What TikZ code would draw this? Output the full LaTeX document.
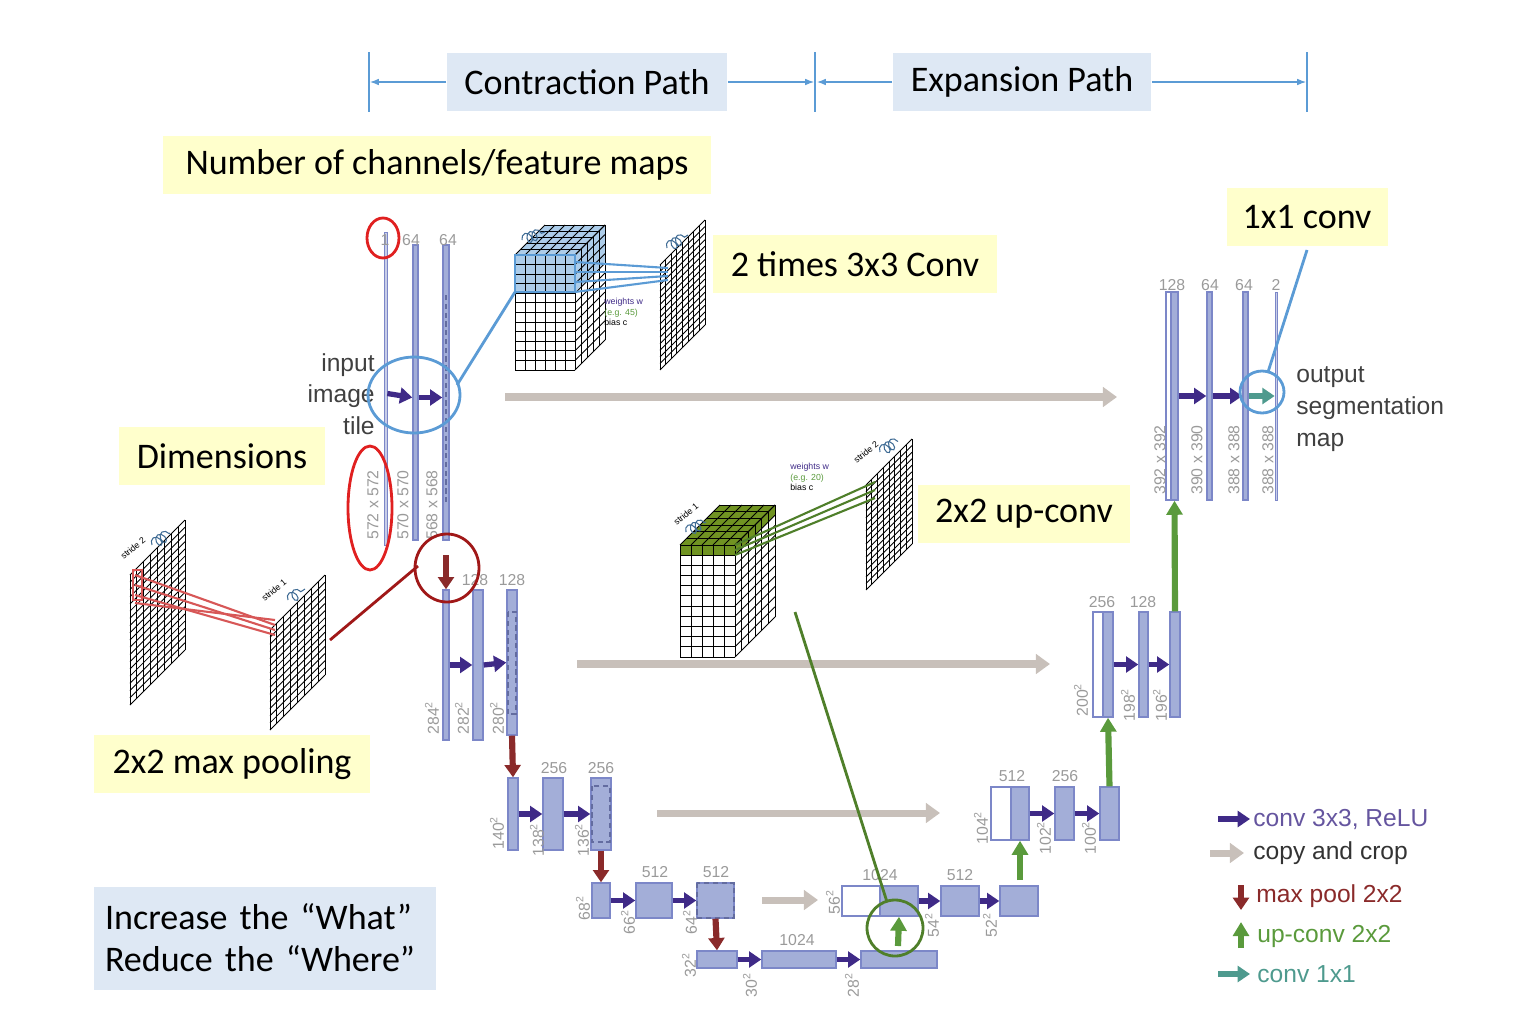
\documentclass[tikz,border=0pt]{standalone}
\usepackage{fontspec}
\setmainfont{Carlito}
\newfontfamily\netfont{Liberation Sans}
\usetikzlibrary{arrows.meta,fit,decorations.pathmorphing}

\definecolor{fmapfill}{HTML}{A3AED8}
\definecolor{fmapdraw}{HTML}{7C87C8}
\definecolor{convcol}{HTML}{3F2A87}
\definecolor{poolcol}{HTML}{8A2A2A}
\definecolor{upcol}{HTML}{5A9A3C}
\definecolor{copycol}{HTML}{C8C0BA}
\definecolor{tealcol}{HTML}{4E9A8E}
\definecolor{yelbox}{HTML}{FFFFCC}
\definecolor{blubox}{HTML}{DEE8F4}
\definecolor{linkblue}{HTML}{5B9BD5}
\definecolor{ringred}{HTML}{E02020}
\definecolor{ringdark}{HTML}{A01818}
\definecolor{linkgreen}{HTML}{4F7F2A}
\definecolor{numgray}{HTML}{9A9A9A}

\tikzset{
  fbox/.style={draw=fmapdraw, fill=fmapfill, line width=0.8pt, inner sep=0pt},
  wbox/.style={draw=fmapdraw, fill=white, line width=0.8pt, inner sep=0pt},
  conv/.style={convcol, line width=3pt, -{Triangle[length=7pt,width=9pt]}},
  one/.style={tealcol, line width=3pt, -{Triangle[length=7pt,width=9pt]}},
  copy/.style={copycol, line width=4pt, -{Triangle[length=8pt,width=11pt]}},
  pool/.style={poolcol, line width=3.5pt, -{Triangle[length=7pt,width=9pt]}},
  up/.style={upcol, line width=3.5pt, -{Triangle[length=8pt,width=9pt]}},
  num/.style={font=\netfont\fontsize{9}{10}\selectfont, text=numgray, inner sep=0pt},
  dim/.style={num, rotate=90},
  ybox/.style={fill=yelbox, inner sep=0pt, font=\fontsize{20.5}{24}\selectfont},
  bbox/.style={fill=blubox, inner sep=0pt, font=\fontsize{20.5}{24}\selectfont},
  path/.style={linkblue, line width=0.6pt, -{Latex[length=5pt]}},
  ring/.style={line width=1.6pt},
  legend/.style={font=\netfont\fontsize{14}{16}\selectfont, anchor=west, inner sep=0pt},
  side/.style={font=\netfont\fontsize{14}{16}\selectfont, text=black!75, inner sep=0pt},
  tiny/.style={font=\netfont\fontsize{5}{6}\selectfont, inner sep=0pt},
  grd/.style={black, line width=0.5pt},
  spring/.style={decorate, decoration={coil, aspect=0.7, segment length=3pt, amplitude=3pt}, linkblue!70!black, line width=0.6pt}
}
% feature map bar from (x1,y1) to (x2,y2)
\newcommand{\fbar}[6][fbox]{\node[#1, fit={(#3,#4) (#5,#6)}] (#2) {};}
% front grid: top-left x,y, width, height, cols, rows
\newcommand{\frontgrid}[6]{%
  \foreach \i in {0,...,#5} \draw[grd] ({#1+\i*#3/#5},#2) -- ++(0,#4);
  \foreach \j in {0,...,#6} \draw[grd] (#1,{#2+\j*#4/#6}) -- ++(#3,0);}
% skewed grid: bottom-front x,y, depth dx,dy, height, depth steps, rows
\newcommand{\skewgrid}[7]{%
  \foreach \i in {0,...,#6} \draw[grd] ({#1+\i*#3/#6},{#2+\i*#4/#6}) -- ++(0,-#5);
  \foreach \j in {0,...,#7} \draw[grd] (#1,{#2-\j*#5/#7}) -- ++(#3,#4);}

\begin{document}
\begin{tikzpicture}[x=0.02cm, y=-0.02cm]
\useasboundingbox (0,0) rectangle (1530,1014);

%------------------ HEADER ------------------%
\foreach \x in {369,815,1307} \draw[linkblue, line width=0.6pt] (\x,52) -- (\x,112);
\node[bbox, minimum width=5.62cm, minimum height=1.16cm] (contr) at (587,82) {Contraction Path};
\node[bbox, minimum width=5.18cm, minimum height=1.16cm] (expan) at (1022,82) {Expansion Path};
\coordinate (h1) at (370,82); \coordinate (h2) at (814,82);
\coordinate (h3) at (817,82); \coordinate (h4) at (1306,82);
\draw[path] (contr.west) -- (h1);
\draw[path] (contr.east) -- (h2);
\draw[path] (expan.west) -- (h3);
\draw[path] (expan.east) -- (h4);

%------------------ LABEL BOXES ------------------%
\node[ybox, minimum width=10.96cm, minimum height=1.16cm] (nch) at (437,165) {Number of channels/feature maps};
\node[ybox, minimum width=5.7cm, minimum height=1.16cm] (twoconv) at (855,264) {2 times 3x3 Conv};
\node[ybox, minimum width=3.22cm, minimum height=1.16cm] (oneconv) at (1307,217) {1x1 conv};
\node[ybox, minimum width=4.12cm, minimum height=1.16cm] (dims) at (222,456) {Dimensions};
\node[ybox, minimum width=4.24cm, minimum height=1.16cm] (upconv) at (1024,514) {2x2 up-conv};
\node[ybox, minimum width=5.52cm, minimum height=1.16cm] (maxpool) at (232,764) {2x2 max pooling};
\node[bbox, minimum width=6.86cm, minimum height=2.06cm, align=left, text width=6.4cm] (what) at (265,938)
  {Increase the “What”\\[0pt]Reduce the “Where”};

%------------------ LEVEL 1 ------------------%
\fbar[fbox,line width=0.4pt,fill=fmapfill!60]{c11}{384}{232}{387}{545}
\fbar{c12}{413}{245}{418}{540}
\fbar{c13}{443}{245}{449}{540}
\draw[fmapdraw!80!black, densely dashed, line width=0.8pt] (446,295) -- (446,505);
\node[num] (n11) at (385,240) {1};
\node[num] (n12) at (411,240) {64};
\node[num] (n13) at (448,240) {64};
\node[dim] (d11) at (373,505) {572 x 572};
\node[dim] (d12) at (403,505) {570 x 570};
\node[dim] (d13) at (432,505) {568 x 568};
\draw[conv] ([yshift=-0.1cm]c11.east) -- ([yshift=-0.1cm]c12.west);
\draw[conv] ([yshift=-0.1cm]c12.east) -- ([yshift=-0.1cm]c13.west);
\node[side, align=right, anchor=east] (inp) at (375,394)
  {input\\[2pt]image\\[2pt]tile};

%------------------ LEVEL 2 ------------------%
\fbar{c21}{443}{590}{449}{740}
\fbar{c22}{473}{590}{483}{740}
\fbar{c23}{507}{590}{517}{735}
\draw[fmapdraw!80!black, densely dashed, line width=0.8pt] (508,612) rectangle (516,714);
\node[num] (n22) at (475,580) {128};
\node[num] (n23) at (512,580) {128};
\node[dim] (d21) at (432,718) {284\textsuperscript{2}};
\node[dim] (d22) at (462,718) {282\textsuperscript{2}};
\node[dim] (d23) at (497,718) {280\textsuperscript{2}};
\draw[conv] (c21.east) -- (c22.west);
\draw[conv] (c22.east) -- (c23.west);

%------------------ LEVEL 3 ------------------%
\fbar{c31}{508}{778}{518}{850}
\fbar{c32}{543}{778}{563}{850}
\fbar{c33}{591}{778}{611}{850}
\draw[fmapdraw!80!black, densely dashed, line width=0.8pt] (592,786) rectangle (610,842);
\node[num] (n32) at (554,768) {256};
\node[num] (n33) at (601,768) {256};
\node[dim] (d31) at (497,833) {140\textsuperscript{2}};
\node[dim] (d32) at (537,840) {138\textsuperscript{2}};
\node[dim] (d33) at (582,840) {136\textsuperscript{2}};
\draw[conv] (c31.east) -- (c32.west);
\draw[conv] (c32.east) -- (c33.west);

%------------------ LEVEL 4 ------------------%
\fbar{c41}{592}{883}{610}{918}
\fbar{c42}{636}{883}{672}{918}
\fbar{c43}{697}{883}{734}{918}
\draw[fmapdraw!80!black, densely dashed, line width=0.8pt] (697,883) rectangle (734,918);
\node[num] (n42) at (655,872) {512};
\node[num] (n43) at (716,872) {512};
\node[dim] (d41) at (583,908) {68\textsuperscript{2}};
\node[dim] (d42) at (628,922) {66\textsuperscript{2}};
\node[dim] (d43) at (690,922) {64\textsuperscript{2}};
\draw[conv] (c41.east) -- (c42.west);
\draw[conv] (c42.east) -- (c43.west);

%------------------ LEVEL 5 ------------------%
\fbar{c51}{697}{951}{737}{968}
\fbar{c52}{762}{951}{836}{968}
\fbar{c53}{861}{951}{937}{968}
\node[num] (n52) at (797,940) {1024};
\node[dim] (d51) at (689,965) {32\textsuperscript{2}};
\node[dim] (d52) at (750,985) {30\textsuperscript{2}};
\node[dim] (d53) at (852,985) {28\textsuperscript{2}};
\draw[conv] (c51.east) -- (c52.west);
\draw[conv] (c52.east) -- (c53.west);

%------------------ EXPANSION LEVEL 4 ------------------%
\fbar[wbox]{e41w}{842}{886}{880}{916}
\fbar{e41}{880}{886}{918}{916}
\fbar{e42}{941}{886}{979}{916}
\fbar{e43}{1000}{886}{1038}{916}
\node[num] (m41) at (880,875) {1024};
\node[num] (m42) at (960,875) {512};
\node[dim] (f41) at (833,902) {56\textsuperscript{2}};
\node[dim] (f42) at (932,925) {54\textsuperscript{2}};
\node[dim] (f43) at (990,925) {52\textsuperscript{2}};
\draw[conv] (e41.east) -- (e42.west);
\draw[conv] (e42.east) -- (e43.west);

%------------------ EXPANSION LEVEL 3 ------------------%
\fbar[wbox]{e31w}{991}{787}{1011}{840}
\fbar{e31}{1011}{787}{1029}{840}
\fbar{e32}{1055}{787}{1074}{840}
\fbar{e33}{1100}{787}{1119}{840}
\node[num] (m31) at (1012,776) {512};
\node[num] (m32) at (1065,776) {256};
\node[dim] (f31) at (981,828) {104\textsuperscript{2}};
\node[dim] (f32) at (1044,838) {102\textsuperscript{2}};
\node[dim] (f33) at (1089,838) {100\textsuperscript{2}};
\draw[conv] (e31.east) -- (e32.west);
\draw[conv] (e32.east) -- (e33.west);

%------------------ EXPANSION LEVEL 2 ------------------%
\fbar[wbox]{e21w}{1093}{612}{1103}{717}
\fbar{e21}{1103}{612}{1113}{717}
\fbar{e22}{1139}{612}{1148}{717}
\fbar{e23}{1170}{612}{1180}{717}
\node[num] (m21) at (1102,602) {256};
\node[num] (m22) at (1143,602) {128};
\node[dim] (f21) at (1081,700) {200\textsuperscript{2}};
\node[dim] (f22) at (1128,705) {198\textsuperscript{2}};
\node[dim] (f23) at (1160,705) {196\textsuperscript{2}};
\draw[conv] (e21.east) -- (e22.west);
\draw[conv] (e22.east) -- (e23.west);

%------------------ EXPANSION LEVEL 1 ------------------%
\fbar[wbox]{e11w}{1166}{292}{1171}{500}
\fbar{e11}{1171}{292}{1178}{500}
\fbar{e12}{1207}{292}{1212}{500}
\fbar{e13}{1243}{292}{1248}{500}
\fbar[fbox,line width=0.4pt,fill=fmapfill!60]{e14}{1275}{292}{1277}{500}
\node[num] (m11) at (1172,285) {128};
\node[num] (m12) at (1210,285) {64};
\node[num] (m13) at (1244,285) {64};
\node[num] (m14) at (1276,285) {2};
\node[dim] (f11) at (1160,460) {392 x 392};
\node[dim] (f12) at (1197,460) {390 x 390};
\node[dim] (f13) at (1234,460) {388 x 388};
\node[dim] (f14) at (1268,460) {388 x 388};
\draw[conv] (e11.east) -- (e12.west);
\draw[conv] (e12.east) -- (e13.west);
\draw[one] (e13.east) -- (e14.west);
\node[side, align=left, anchor=west] (outp) at (1296,409)
  {output\\[2pt]segmentation\\[2pt]map};

%------------------ POOL / UP ------------------%
\draw[pool] (446,555) -- (c21.north);
\draw[pool] (c23.south) -- (c31.north);
\draw[pool] (c33.south) -- (c41.north);
\draw[pool] (c43.south) -- (c51.north);
\draw[up] (898,946) -- (e41.south);
\draw[up] (1020,880) -- (e31.south);
\draw[up] (e33.north) -- (e21.south);
\draw[up] (e23.north) -- (e11.south);

%------------------ COPY AND CROP ------------------%
\coordinate (k1) at (505,397); \coordinate (k1e) at (1117,397);
\coordinate (k2) at (577,664); \coordinate (k2e) at (1050,664);
\coordinate (k3) at (657,813); \coordinate (k3e) at (940,813);
\coordinate (k4) at (762,900); \coordinate (k4e) at (818,900);
\draw[copy] (k1) -- (k1e);
\draw[copy] (k2) -- (k2e);
\draw[copy] (k3) -- (k3e);
\draw[copy] (k4) -- (k4e);

%------------------ CONV ILLUSTRATION ------------------%
\fill[linkblue!50] (515,255) rectangle (575,292);
\fill[linkblue!50] (515,255) -- (545,225) -- (605,225) -- (605,262) -- (575,292) -- (575,255) -- cycle;
\frontgrid{515}{255}{60}{115}{6}{12}
\skewgrid{575}{370}{30}{-30}{115}{5}{12}
\foreach \i in {0,...,6} \draw[grd] ({515+\i*10},255) -- ++(30,-30);
\foreach \i in {1,...,5} \draw[grd] ({515+\i*6},{255-\i*6}) -- ++(60,0);
\skewgrid{660}{370}{45}{-45}{105}{8}{16}
\draw[linkblue, line width=1.2pt] (515,255) rectangle (575,292);
\foreach \a/\b in {262/268,272/272,282/276,292/280} \draw[linkblue, line width=1.2pt] (575,\a) -- (668,\b);
\draw[spring] (522,240) -- (545,232);
\draw[spring] (667,248) -- (688,235);
\node[tiny, align=left, anchor=west] (wts) at (604,312)
  {\textcolor{convcol}{weights w}\\\textcolor{upcol}{(e.g. 45)}\\bias c};

%------------------ UP-CONV ILLUSTRATION ------------------%
\fill[upcol!70!yellow!80!black] (680,545) rectangle (735,555);
\fill[upcol!70!yellow!80!black] (680,545) -- (720,505) -- (775,505) -- (775,515) -- (735,555) -- (735,545) -- cycle;
\frontgrid{680}{545}{55}{112}{5}{11}
\skewgrid{735}{657}{40}{-40}{112}{6}{11}
\foreach \i in {0,...,5} \draw[grd] ({680+\i*11},545) -- ++(40,-40);
\foreach \i in {1,...,6} \draw[grd] ({680+\i*6.67},{545-\i*6.67}) -- ++(55,0);
\skewgrid{866}{590}{46}{-46}{105}{8}{16}
\foreach \a/\b in {545/482,550/490,555/498} \draw[linkgreen, line width=1.2pt] (735,\a) -- (875,\b);
\draw[spring] (686,532) -- (706,522);
\draw[spring] (880,452) -- (898,441);
\node[tiny, rotate=40] (s1) at (686,514) {stride 1};
\node[tiny, rotate=40] (s2) at (866,452) {stride 2};
\node[tiny, align=left, anchor=west] (wts2) at (790,477)
  {\textcolor{convcol}{weights w}\\\textcolor{upcol}{(e.g. 20)}\\bias c};

%------------------ MAX POOL ILLUSTRATION ------------------%
\skewgrid{130}{705}{55}{-55}{130}{8}{18}
\skewgrid{270}{730}{55}{-55}{100}{8}{14}
\foreach \a/\b in {575/625,585/630,595/635,603/620} \draw[ringdark!60!red!70, line width=1.2pt] (135,\a) -- (275,\b);
\draw[ringdark!60!red!70, line width=1.2pt] (133,570) rectangle (142,600);
\node[tiny, rotate=40] (s3) at (133,548) {stride 2};
\node[tiny, rotate=40] (s4) at (274,590) {stride 1};
\draw[spring] (152,545) -- (170,533);
\draw[spring] (288,600) -- (305,589);

%------------------ HIGHLIGHT RINGS ------------------%
\draw[ring, ringred] (383,238) ellipse (16 and 20);
\draw[ring, ringred] (370,508) ellipse (22 and 62);
\draw[ring, linkblue] (414,395) ellipse (46 and 38);
\draw[ring, ringdark] (447,568) ellipse (32 and 34);
\draw[ring, linkblue] (1262,392) ellipse (22 and 21);
\draw[ring, linkgreen] (895,928) circle (28);
\coordinate (lb1) at (515,292); \coordinate (lb2) at (1307,250);
\coordinate (lr1) at (330,640); \coordinate (lg1) at (795,612);
\draw[ring, linkblue] (457,385) -- (lb1);
\draw[ring, linkblue] (1268,372) -- (lb2);
\draw[ring, ringdark] (lr1) -- (418,566);
\draw[ring, linkgreen] (lg1) -- (887,902);

%------------------ LEGEND ------------------%
\coordinate (g1) at (1218,819); \coordinate (g1e) at (1250,819);
\coordinate (g2) at (1210,853); \coordinate (g2e) at (1244,853);
\coordinate (g3) at (1241,885); \coordinate (g3e) at (1241,910);
\coordinate (g4) at (1241,948); \coordinate (g4e) at (1241,922);
\coordinate (g5) at (1218,974); \coordinate (g5e) at (1250,974);
\draw[conv] (g1) -- (g1e);
\draw[copy] (g2) -- (g2e);
\draw[pool] (g3) -- (g3e);
\draw[up] (g4) -- (g4e);
\draw[one] (g5) -- (g5e);
\node[legend, text=convcol!80] (l1) at (1253,819) {conv 3x3, ReLU};
\node[legend, text=black!80] (l2) at (1253,853) {copy and crop};
\node[legend, text=poolcol] (l3) at (1256,896) {max pool 2x2};
\node[legend, text=upcol] (l4) at (1257,936) {up-conv 2x2};
\node[legend, text=tealcol] (l5) at (1257,974) {conv 1x1};

\end{tikzpicture}
\end{document}
